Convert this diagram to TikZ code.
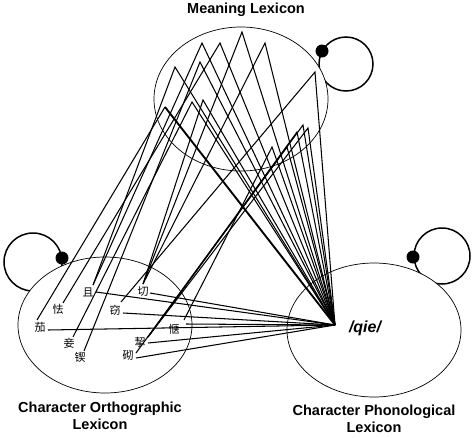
\documentclass[tikz,border=0pt]{standalone}
\usepackage{fontspec}
\setmainfont{Liberation Sans}
\newfontfamily\cjk{Noto Sans CJK SC}
\usetikzlibrary{shapes.geometric}
\begin{document}
\begin{tikzpicture}[x=1pt,y=-1pt,
  lex/.style={draw, ellipse, line width=0.7pt, fill=white, inner sep=0pt},
  loopline/.style={line width=1.5pt},
  blob/.style={circle, fill=black, inner sep=0pt, minimum size=13pt},
  link/.style={line width=1.05pt},
  thicklink/.style={line width=1.9pt},
  title/.style={font=\fontsize{14.5}{17}\selectfont\bfseries, align=center, inner sep=0pt},
  ch/.style={font=\cjk\fontsize{11}{11}\selectfont, inner sep=0pt}]
\useasboundingbox (0,0) rectangle (474,437);

% self loops
\draw[loopline] (346,64) circle (27pt);
\draw[loopline] (33,262) circle (29pt);
\draw[loopline] (442,256) circle (28pt);

% lexicons
\node[lex, minimum width=174pt, minimum height=144pt] (mean) at (241,99) {};
\node[lex, minimum width=174pt, minimum height=136pt] (orth) at (105,325) {};
\node[lex, minimum width=174pt, minimum height=134pt] (phon) at (374,330) {};

\node[blob] (d1) at (322,51) {};
\node[blob] (d2) at (62,258) {};
\node[blob] (d3) at (413,257) {};

% labels
\node[title] (tm) at (246,10) {Meaning Lexicon};
\node[title] (to) at (100,416) {Character Orthographic\\Lexicon};
\node[title] (tp) at (374,419) {Character Phonological\\Lexicon};
\node[font=\fontsize{16}{18}\selectfont\bfseries\itshape, inner sep=0pt] (qie) at (365,328) {/qie/};
\coordinate (q) at (335,325);

% characters
\node[ch] (c1) at (40,327) {茄};
\node[ch] (c2) at (58,309) {怯};
\node[ch] (c3) at (88,292) {且};
\node[ch] (c4) at (115,310) {窃};
\node[ch] (c5) at (143,292) {切};
\node[ch] (c6) at (174,329) {惬};
\node[ch] (c7) at (69,343) {妾};
\node[ch] (c8) at (80,357) {锲};
\node[ch] (c9) at (140,342) {挈};
\node[ch] (c10) at (128,355) {砌};

% anchors of the links to meaning
\coordinate (a1) at (37,320);
\coordinate (a2) at (63,303);
\coordinate (a3) at (93,285);
\coordinate (a4) at (121,302);
\coordinate (a5) at (143,284);
\coordinate (a6) at (184,320);
\coordinate (a7) at (73,337);
\coordinate (a8) at (84,351);
\coordinate (a9) at (148,337);
\coordinate (a10) at (136,353);

% anchors of the links to phonology
\coordinate (h1) at (48,330);
\coordinate (h3) at (96,292);
\coordinate (h4) at (123,313);
\coordinate (h5) at (150,293);
\coordinate (h6) at (186,324);
\coordinate (h9) at (148,343);
\coordinate (h10) at (136,358);

% meaning units
\coordinate (p1) at (242,32);
\coordinate (p2) at (202,43);
\coordinate (p3) at (220,43);
\coordinate (p4) at (265,43);
\coordinate (p5) at (175,67);
\coordinate (p6) at (200,62);
\coordinate (p7) at (315,72);
\coordinate (p8) at (165,107);
\coordinate (p9) at (192,102);
\coordinate (p10) at (203,100);
\coordinate (p11) at (303,125);
\coordinate (p12) at (308,128);
\coordinate (p13) at (297,132);
\coordinate (p14) at (287,147);
\coordinate (p15) at (272,147);

% orthography -> meaning -> phonology
\draw[link] (a5) -- (p1) -- (q);
\draw[link] (a3) -- (p2) -- (q);
\draw[link] (a2) -- (p3) -- (q);
\draw[link] (a5) -- (p4) -- (q);
\draw[link] (a3) -- (p5) -- (q);
\draw[link] (a8) -- (p6) -- (q);
\draw[link] (a4) -- (p7) -- (q);
\draw[link] (a1) -- (p8);
\draw[thicklink] (p8) -- (q);
\draw[link] (a7) -- (p9) -- (q);
\draw[link] (a5) -- (p10) -- (q);
\draw[link] (a9) -- (p11) -- (q);
\draw[link] (a9) -- (p12) -- (q);
\draw[link] (a10) -- (p13) -- (q);
\draw[link] (a9) -- (p14) -- (q);
\draw[link] (a6) -- (p15) -- (q);

% orthography -> phonology
\draw[link] (h1) -- (q);
\draw[link] (h3) -- (q);
\draw[link] (h4) -- (q);
\draw[link] (h5) -- (q);
\draw[link] (h6) -- (q);
\draw[link] (h9) -- (q);
\draw[link] (h10) -- (q);
\end{tikzpicture}
\end{document}
